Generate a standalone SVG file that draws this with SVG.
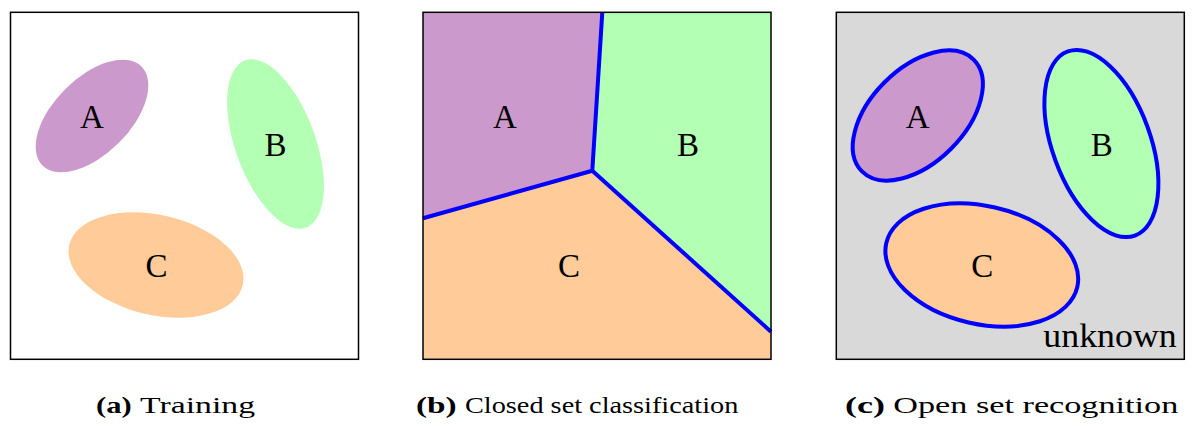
<svg xmlns="http://www.w3.org/2000/svg" width="1200" height="426" viewBox="0 0 1200 426">
<style>
.frame{fill:none;stroke:#000;stroke-width:1.5}
.pa{fill:#cc99cc}.pb{fill:#b3ffb3}.pc{fill:#ffcc99}
.bd{stroke:#0000ff;stroke-width:4;fill:none;stroke-linejoin:round}
.lbl{font-family:"Liberation Serif","DejaVu Serif",serif;font-size:33px;fill:#000;text-anchor:middle}
.cap{font-family:"Liberation Serif","DejaVu Serif",serif;font-size:24px;fill:#000}
.capb{font-weight:bold}
</style>
<rect width="1200" height="426" fill="#fff"/>
<!-- Panel (a) -->
<g id="panel-a">
  <g id="a-A"><ellipse class="pa" cx="92" cy="116" rx="70" ry="38" transform="rotate(-45 92 116)"/><text class="lbl" x="92" y="128">A</text></g>
  <g id="a-B"><ellipse class="pb" cx="275.5" cy="144" rx="89" ry="40" transform="rotate(70 275.5 144)"/><text class="lbl" x="275.5" y="156">B</text></g>
  <g id="a-C"><ellipse class="pc" cx="156" cy="265" rx="89" ry="50" transform="rotate(13 156 265)"/><text class="lbl" x="156.5" y="277">C</text></g>
  <rect class="frame" x="10.5" y="12.3" width="348" height="347"/>
</g>
<!-- Panel (b) -->
<g id="panel-b">
  <g id="b-A"><polygon class="pa" points="423,12.3 602.3,12.3 592.3,170.7 423,218.3"/><text class="lbl" x="505" y="128">A</text></g>
  <g id="b-B"><polygon class="pb" points="602.3,12.3 771,12.3 771,331.7 592.3,170.7"/><text class="lbl" x="688" y="156">B</text></g>
  <g id="b-C"><polygon class="pc" points="423,218.3 592.3,170.7 771,331.7 771,359.3 423,359.3"/><text class="lbl" x="569" y="277">C</text></g>
  <g id="b-boundaries"><polyline class="bd" points="602.3,12.3 592.3,170.7 423,218.3"/><line class="bd" x1="592.3" y1="170.7" x2="771" y2="331.7"/></g>
  <rect class="frame" x="423" y="12.3" width="348" height="347"/>
</g>
<!-- Panel (c) -->
<g id="panel-c">
  <rect x="836.3" y="12.3" width="348" height="347" fill="#d9d9d9"/>
  <g id="c-A"><ellipse class="pa" cx="917.8" cy="115.5" rx="79" ry="47" transform="rotate(-45 917.8 115.5)"/><ellipse class="bd" cx="917.8" cy="115.5" rx="79" ry="47" transform="rotate(-45 917.8 115.5)"/><text class="lbl" x="917.7" y="128">A</text></g>
  <g id="c-B"><ellipse class="pb" cx="1101.4" cy="143.5" rx="98" ry="49" transform="rotate(70 1101.4 143.5)"/><ellipse class="bd" cx="1101.4" cy="143.5" rx="98" ry="49" transform="rotate(70 1101.4 143.5)"/><text class="lbl" x="1101.7" y="156">B</text></g>
  <g id="c-C"><ellipse class="pc" cx="981.8" cy="265" rx="98" ry="59" transform="rotate(13 981.8 265)"/><ellipse class="bd" cx="981.8" cy="265" rx="98" ry="59" transform="rotate(13 981.8 265)"/><text class="lbl" x="982.3" y="277">C</text></g>
  <text id="c-unknown" x="1043.3" y="346.7" font-family="Liberation Serif, DejaVu Serif, serif" font-size="33" textLength="133.4" lengthAdjust="spacingAndGlyphs">unknown</text>
  <rect class="frame" x="836.3" y="12.3" width="348" height="347"/>
</g>
<!-- Captions -->
<g id="captions">
  <text class="cap capb" x="96" y="413.3" textLength="35.7" lengthAdjust="spacingAndGlyphs">(a)</text>
  <text class="cap" x="140" y="413.3" textLength="115" lengthAdjust="spacingAndGlyphs">Training</text>
  <text class="cap capb" x="416" y="413.3" textLength="40.7" lengthAdjust="spacingAndGlyphs">(b)</text>
  <text class="cap" x="465" y="413.3" textLength="273.3" lengthAdjust="spacingAndGlyphs">Closed set classification</text>
  <text class="cap capb" x="845" y="413.3" textLength="40" lengthAdjust="spacingAndGlyphs">(c)</text>
  <text class="cap" x="893.3" y="413.3" textLength="285" lengthAdjust="spacingAndGlyphs">Open set recognition</text>
</g>
</svg>
